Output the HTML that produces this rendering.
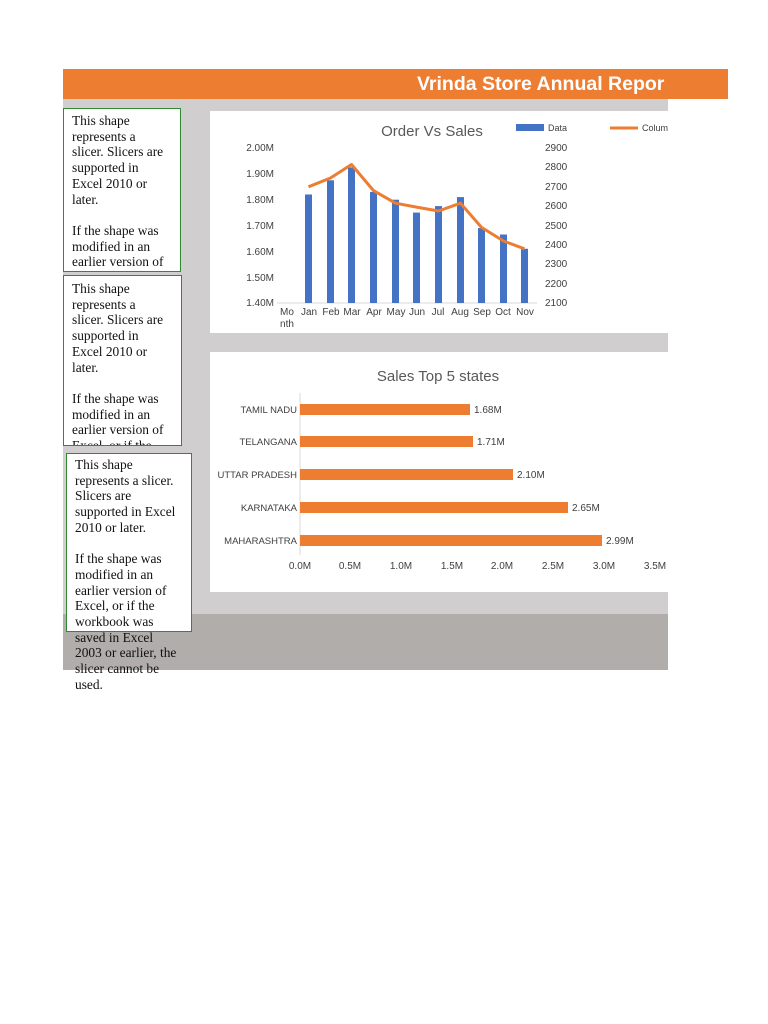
<!DOCTYPE html>
<html><head><meta charset="utf-8"><style>
body{margin:0;width:768px;height:1024px;background:#fff;position:relative;overflow:hidden;font-family:"Liberation Sans",sans-serif}
.abs{position:absolute}
.tb{position:absolute;background:#fff;border:1px solid #2e8b2e;box-sizing:border-box;font-family:"Liberation Serif",serif;font-size:13.4px;line-height:15.7px;color:#111;padding:4px 10px 0 8px}
.tb p{margin:0 0 15.7px 0}
</style></head><body>
<div class="abs" style="left:63px;top:69px;width:665px;height:30px;background:#ed7d31"></div>
<div class="abs" style="left:417px;top:71px;color:#fff;font-weight:bold;font-size:19.5px;line-height:26px;letter-spacing:0px;font-family:'Liberation Sans',sans-serif">Vrinda Store Annual Repor</div>
<div class="abs" style="left:63px;top:99px;width:605px;height:515px;background:#d0cecf"></div>
<div class="abs" style="left:63px;top:614px;width:605px;height:56px;background:#b0adab"></div>
<svg class="abs" style="left:0;top:0" width="768" height="1024" font-family="Liberation Sans, sans-serif">
<rect x="210" y="111" width="458" height="222" fill="#fff"/>
<rect x="210" y="352" width="458" height="240" fill="#fff"/>
<text x="432" y="136" font-size="15" fill="#595959" text-anchor="middle">Order Vs Sales</text>
<rect x="516" y="124" width="28" height="7" fill="#4472c4"/>
<text x="548" y="131" font-size="9" fill="#404040">Data</text>
<line x1="610" y1="128" x2="638" y2="128" stroke="#ed7d31" stroke-width="3"/>
<text x="642" y="131" font-size="9" fill="#404040">Colum</text>
<g font-size="10" fill="#404040" text-anchor="end">
<text x="274" y="151">2.00M</text><text x="274" y="177">1.90M</text><text x="274" y="203">1.80M</text><text x="274" y="229">1.70M</text><text x="274" y="255">1.60M</text><text x="274" y="281">1.50M</text><text x="274" y="306">1.40M</text>
</g>
<g font-size="10" fill="#404040">
<text x="545" y="151">2900</text><text x="545" y="170">2800</text><text x="545" y="190">2700</text><text x="545" y="209">2600</text><text x="545" y="229">2500</text><text x="545" y="248">2400</text><text x="545" y="267">2300</text><text x="545" y="287">2200</text><text x="545" y="306">2100</text>
</g>
<line x1="277" y1="303" x2="537" y2="303" stroke="#d9d9d9"/>
<g fill="#4472c4">
<rect x="305" y="194.5" width="7" height="108.5"/><rect x="327" y="180.3" width="7" height="122.7"/><rect x="348" y="167.4" width="7" height="135.6"/><rect x="370" y="191.9" width="7" height="111.1"/><rect x="392" y="199.7" width="7" height="103.3"/><rect x="413" y="212.6" width="7" height="90.4"/><rect x="435" y="206.1" width="7" height="96.9"/><rect x="457" y="197.1" width="7" height="105.9"/><rect x="478" y="228.1" width="7" height="74.9"/><rect x="500" y="234.5" width="7" height="68.5"/><rect x="521" y="248.8" width="7" height="54.2"/>
</g>
<polyline fill="none" stroke="#ed7d31" stroke-width="3" stroke-linejoin="round" points="308.5,186.8 330.5,178 351.5,164.5 373.5,190.6 395.5,203.2 416.5,207.1 438.5,211 460.5,203.2 481.5,227.4 503.5,241 524.5,248.8"/>
<g font-size="10" fill="#404040" text-anchor="middle">
<text x="287" y="315">Mo</text><text x="287" y="327">nth</text>
<text x="309" y="315">Jan</text><text x="331" y="315">Feb</text><text x="352" y="315">Mar</text><text x="374" y="315">Apr</text><text x="396" y="315">May</text><text x="417" y="315">Jun</text><text x="438" y="315">Jul</text><text x="460" y="315">Aug</text><text x="482" y="315">Sep</text><text x="503" y="315">Oct</text><text x="525" y="315">Nov</text>
</g>
<text x="438" y="381" font-size="15" fill="#595959" text-anchor="middle">Sales Top 5 states</text>
<line x1="300" y1="393" x2="300" y2="555" stroke="#d9d9d9"/>
<g fill="#ed7d31">
<rect x="300" y="404" width="170" height="11"/><rect x="300" y="436" width="173" height="11"/><rect x="300" y="469" width="213" height="11"/><rect x="300" y="502" width="268" height="11"/><rect x="300" y="535" width="302" height="11"/>
</g>
<g font-size="9.5" fill="#404040" text-anchor="end">
<text x="297" y="413">TAMIL NADU</text><text x="297" y="445">TELANGANA</text><text x="297" y="478">UTTAR PRADESH</text><text x="297" y="511">KARNATAKA</text><text x="297" y="544">MAHARASHTRA</text>
</g>
<g font-size="10" fill="#404040">
<text x="474" y="413">1.68M</text><text x="477" y="445">1.71M</text><text x="517" y="478">2.10M</text><text x="572" y="511">2.65M</text><text x="606" y="544">2.99M</text>
</g>
<g font-size="10" fill="#404040" text-anchor="middle">
<text x="300" y="569">0.0M</text><text x="350" y="569">0.5M</text><text x="401" y="569">1.0M</text><text x="452" y="569">1.5M</text><text x="502" y="569">2.0M</text><text x="553" y="569">2.5M</text><text x="604" y="569">3.0M</text><text x="655" y="569">3.5M</text>
</g>
</svg>
<div class="tb" style="left:63px;top:108px;width:118px;height:164px;overflow:hidden;padding-right:12px"><p>This shape represents a slicer. Slicers are supported in Excel 2010 or later.</p><p>If the shape was modified in an earlier version of Excel, or if the workbook was saved</p></div>
<div class="tb" style="left:63px;top:275px;width:119px;height:171px;overflow:hidden;padding-top:5px;padding-right:13px"><p>This shape represents a slicer. Slicers are supported in Excel 2010 or later.</p><p>If the shape was modified in an earlier version of Excel, or if the workbook</p></div>
<div class="tb" style="left:66px;top:453px;width:126px;height:179px;overflow:visible;padding-top:3px;padding-right:14px;background:#fff"><p>This shape represents a slicer. Slicers are supported in Excel 2010 or later.</p><p>If the shape was modified in an earlier version of Excel, or if the workbook was saved in Excel 2003 or earlier, the slicer cannot be used.</p></div>
</body></html>
